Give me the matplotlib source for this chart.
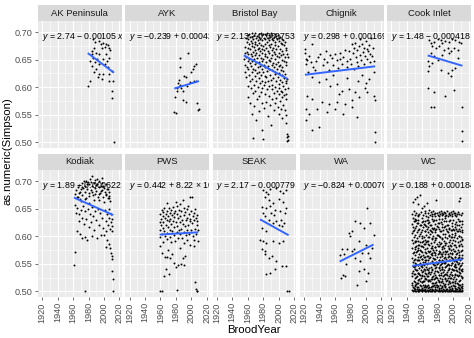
import matplotlib
matplotlib.use("Agg")
import matplotlib.pyplot as plt
from matplotlib.ticker import FixedLocator, FixedFormatter
import numpy as np

plt.rcParams['font.family'] = ['Liberation Sans', 'DejaVu Sans']
plt.rcParams['mathtext.fontset'] = 'custom'
plt.rcParams['mathtext.rm'] = 'Liberation Sans'
plt.rcParams['mathtext.it'] = 'Liberation Sans:italic'

# ---------------- data ----------------
regions = ["AK Peninsula", "AYK", "Bristol Bay", "Chignik", "Cook Inlet",
           "Kodiak", "PWS", "SEAK", "WA", "WC"]

eq_intercept = [2.74, -0.239, 2.13, 0.298, 1.48, 1.89, 0.442, 2.17, -0.824, 0.188]
eq_slope = [-0.00105, 0.000423, -0.000753, 0.000169, -0.000418,
            -0.000622, 8.22e-5, -0.000779, 0.000701, 0.000184]
eq_labels = [
    r"$\it{y}$ = 2.74 − 0.00105 $\it{x}$",
    r"$\it{y}$ = −0.239 + 0.000423 $\it{x}$",
    r"$\it{y}$ = 2.13 − 0.000753 $\it{x}$",
    r"$\it{y}$ = 0.298 + 0.000169 $\it{x}$",
    r"$\it{y}$ = 1.48 − 0.000418 $\it{x}$",
    r"$\it{y}$ = 1.89 − 0.000622 $\it{x}$",
    r"$\it{y}$ = 0.442 + 8.22 × 10$^{-5}$ $\it{x}$",
    r"$\it{y}$ = 2.17 − 0.000779 $\it{x}$",
    r"$\it{y}$ = −0.824 + 0.000701 $\it{x}$",
    r"$\it{y}$ = 0.188 + 0.000184 $\it{x}$",
]

x_ticks = [1920, 1940, 1960, 1980, 2000, 2020]
y_ticks = [0.50, 0.55, 0.60, 0.65, 0.70]
y_tick_labels = ["0.50", "0.55", "0.60", "0.65", "0.70"]

akp_points = [(1986,0.687),(1989,0.683),(1994,0.684),(1999,0.681),(2003,0.679),(2005,0.677),
    (2001,0.673),(1997,0.672),(1987,0.672),(1984,0.666),(1990,0.663),(1994,0.660),(2002,0.660),
    (1986,0.654),(1991,0.651),(1999,0.651),(1982,0.648),(1988,0.645),(1994,0.642),(2001,0.642),
    (1984,0.639),(2005,0.636),(1990,0.633),(1987,0.627),(1994,0.624),(1999,0.624),(2007,0.624),
    (1992,0.618),(1997,0.615),(2007,0.612),(2012,0.611),(1982,0.612),(1979,0.602),(2010,0.593),
    (2010,0.581),(2013,0.501),(2006,0.671),(2006,0.654),(2004,0.648),(2010,0.630),(1996,0.678),
    (2008,0.668),(1985,0.660)]

ayk_points = [(1996,0.663),(1986,0.653),(2006,0.642),(2003,0.638),(1985,0.636),(2002,0.634),
    (2000,0.627),(1990,0.621),(1993,0.619),(1984,0.614),(1998,0.609),(1983,0.607),(1994,0.602),
    (1987,0.598),(1981,0.598),(1982,0.593),(1989,0.594),(2003,0.611),(1979,0.582),(1989,0.576),
    (1993,0.573),(2008,0.571),(2010,0.561),(2009,0.559),(1978,0.555),(1980,0.554),(2006,0.612),
    (1985,0.605)]

bb_years = [1955,1956,1957,1958,1959,1960,1961,1962,1963,1964,1965,1966,1967,1968,1969,1970,
    1971,1972,1973,1974,1975,1976,1977,1978,1979,1980,1981,1982,1983,1984,1985,1986,1987,1988,
    1989,1990,1991,1992,1993,1994,1995,1996,1997,1998,1999,2000,2001,2002,2003,2004,2005,2006,
    2007,2008,2009,2010,2011,2012]
bb_values = [
    [0.651], [0.662, 0.628], [0.673, 0.641], [0.689, 0.655, 0.618], [0.682, 0.664, 0.637],
    [0.694, 0.671, 0.648, 0.603], [0.687, 0.660, 0.633, 0.583], [0.697, 0.678, 0.652, 0.622],
    [0.691, 0.669, 0.644, 0.611, 0.571], [0.684, 0.661, 0.638, 0.598],
    [0.699, 0.675, 0.656, 0.627, 0.552], [0.692, 0.681, 0.647, 0.615],
    [0.688, 0.664, 0.633, 0.589, 0.507], [0.695, 0.673, 0.651, 0.605, 0.566],
    [0.683, 0.667, 0.642, 0.620], [0.698, 0.679, 0.658, 0.631, 0.594],
    [0.690, 0.662, 0.645, 0.612, 0.541], [0.693, 0.676, 0.653, 0.626, 0.578],
    [0.686, 0.669, 0.637, 0.601], [0.697, 0.681, 0.659, 0.628, 0.585],
    [0.691, 0.672, 0.646, 0.617, 0.556], [0.688, 0.665, 0.639, 0.608],
    [0.699, 0.677, 0.654, 0.623, 0.592], [0.694, 0.670, 0.648, 0.612, 0.572],
    [0.685, 0.663, 0.634, 0.598, 0.523], [0.696, 0.674, 0.652, 0.627, 0.506],
    [0.690, 0.668, 0.641, 0.604, 0.563], [0.697, 0.679, 0.657, 0.620, 0.588],
    [0.687, 0.661, 0.636, 0.609], [0.694, 0.671, 0.645, 0.618, 0.574],
    [0.699, 0.683, 0.655, 0.629, 0.596], [0.689, 0.666, 0.638, 0.611, 0.548],
    [0.695, 0.676, 0.650, 0.602], [0.685, 0.662, 0.633, 0.584],
    [0.692, 0.673, 0.647, 0.622, 0.567], [0.698, 0.679, 0.654, 0.614, 0.532],
    [0.688, 0.667, 0.640, 0.597], [0.694, 0.659, 0.631, 0.605, 0.578],
    [0.686, 0.671, 0.644, 0.616], [0.691, 0.664, 0.637, 0.590, 0.558],
    [0.697, 0.676, 0.651, 0.624], [0.683, 0.660, 0.628, 0.601, 0.571],
    [0.693, 0.669, 0.642, 0.612, 0.580], [0.688, 0.657, 0.633, 0.593],
    [0.695, 0.674, 0.646, 0.619, 0.564], [0.684, 0.663, 0.638, 0.606, 0.587],
    [0.690, 0.655, 0.626, 0.599, 0.552], [0.692, 0.670, 0.641, 0.613, 0.575],
    [0.681, 0.658, 0.631, 0.594, 0.561], [0.687, 0.665, 0.636, 0.609, 0.583],
    [0.679, 0.650, 0.622, 0.591, 0.545], [0.685, 0.661, 0.629, 0.603, 0.568],
    [0.676, 0.648, 0.617, 0.586], [0.682, 0.655, 0.624, 0.597, 0.559],
    [0.671, 0.640, 0.611, 0.578, 0.535], [0.668, 0.646, 0.607, 0.588, 0.549],
    [0.660, 0.615, 0.516, 0.509, 0.502], [0.655, 0.599, 0.512, 0.505],
]

chignik_points = [(1921,0.669),(1921,0.663),(1923,0.652),(1924,0.649),(1922,0.642),(1926,0.657),
    (1929,0.645),(1930,0.678),(1932,0.636),(1935,0.648),(1938,0.655),(1941,0.661),(1944,0.640),
    (1946,0.652),(1948,0.666),(1950,0.645),(1952,0.632),(1954,0.658),(1956,0.654),(1958,0.641),
    (1960,0.660),(1962,0.649),(1964,0.635),(1966,0.652),(1967,0.663),(1969,0.643),(1971,0.655),
    (1973,0.668),(1975,0.648),(1976,0.637),(1978,0.666),(1980,0.652),(1981,0.643),(1982,0.678),
    (1983,0.662),(1984,0.634),(1985,0.671),(1986,0.681),(1987,0.655),(1988,0.646),(1989,0.668),
    (1990,0.638),(1991,0.675),(1992,0.687),(1993,0.659),(1994,0.649),(1995,0.679),(1996,0.664),
    (1997,0.672),(1998,0.642),(1999,0.656),(2000,0.684),(2001,0.669),(2002,0.651),(2003,0.666),
    (2004,0.676),(2005,0.645),(2006,0.661),(2007,0.689),(2008,0.657),(2009,0.671),(2010,0.648),
    (2010,0.627),(1930,0.618),(1939,0.609),(1948,0.615),(1954,0.603),(1963,0.606),(1969,0.594),
    (1978,0.597),(1986,0.591),(1990,0.612),(1995,0.622),(2000,0.608),(2004,0.615),(1924,0.585),
    (1930,0.578),(1943,0.573),(1952,0.570),(1963,0.573),(1973,0.570),(1982,0.576),(1991,0.582),
    (2001,0.591),(2011,0.585),(2012,0.576),(1922,0.561),(1926,0.552),(1922,0.540),(1930,0.522),
    (1939,0.528),(1950,0.555),(1960,0.561),(1971,0.552),(1982,0.564),(1988,0.546),(1937,0.561),
    (2012,0.519),(2012,0.501),(1925,0.627),(1934,0.631),(1957,0.622),(1976,0.617),(1965,0.588),
    (1999,0.598)]

cook_points = [(1969,0.686),(1971,0.680),(1975,0.683),(1980,0.687),(1984,0.686),(1986,0.680),
    (1990,0.684),(1995,0.683),(1999,0.687),(2003,0.686),(2008,0.683),(2010,0.680),(1973,0.674),
    (1978,0.671),(1982,0.674),(1988,0.668),(1993,0.672),(1997,0.665),(2001,0.671),(2006,0.668),
    (1971,0.662),(1975,0.656),(1967,0.647),(1973,0.644),(1969,0.638),(1967,0.629),(1984,0.632),
    (1993,0.626),(1999,0.632),(2003,0.635),(1997,0.620),(1968,0.599),(1975,0.592),(1990,0.585),
    (2001,0.595),(1971,0.565),(1975,0.565),(2011,0.565),(2011,0.520),(2012,0.502),(1995,0.662),
    (1986,0.659),(1980,0.650),(2006,0.653)]

kodiak_points = [(1963,0.676),(1964,0.684),(1965,0.671),(1966,0.689),(1967,0.679),(1968,0.693),
    (1969,0.668),(1970,0.685),(1971,0.697),(1972,0.674),(1973,0.688),(1974,0.701),(1975,0.681),
    (1976,0.692),(1977,0.669),(1978,0.686),(1979,0.698),(1980,0.678),(1981,0.694),(1982,0.704),
    (1983,0.684),(1984,0.691),(1985,0.709),(1986,0.675),(1987,0.697),(1988,0.687),(1989,0.703),
    (1990,0.682),(1991,0.695),(1992,0.672),(1993,0.689),(1994,0.700),(1995,0.679),(1996,0.692),
    (1997,0.684),(1998,0.697),(1999,0.671),(2000,0.688),(2001,0.680),(2002,0.694),(2003,0.676),
    (2004,0.686),(2005,0.669),(2006,0.681),(2007,0.673),(2008,0.664),(1966,0.672),(1969,0.681),
    (1972,0.690),(1975,0.667),(1978,0.695),(1981,0.673),(1984,0.680),(1987,0.666),(1990,0.693),
    (1993,0.677),(1996,0.683),(1999,0.691),(2002,0.674),(2005,0.685),(1970,0.664),(1980,0.660),
    (1988,0.676),(1994,0.665),(2000,0.662),(2006,0.669),(1983,0.699),(1991,0.704),(1997,0.705),
    (1977,0.700),(1962,0.657),(1964,0.643),(1965,0.652),(1967,0.640),(1968,0.628),(1970,0.647),
    (1971,0.634),(1973,0.655),(1974,0.622),(1976,0.645),(1977,0.631),(1979,0.650),(1980,0.617),
    (1982,0.641),(1983,0.626),(1985,0.653),(1986,0.637),(1987,0.611),(1989,0.646),(1990,0.629),
    (1992,0.650),(1993,0.620),(1995,0.642),(1996,0.603),(1998,0.634),(1999,0.615),(2001,0.647),
    (2002,0.627),(2003,0.609),(2004,0.640),(2005,0.620),(2006,0.633),(2007,0.650),(2008,0.613),
    (2009,0.640),(2009,0.625),(2010,0.632),(2010,0.618),(2011,0.610),(1969,0.604),(1972,0.597),
    (1975,0.599),(1978,0.593),(1984,0.600),(1991,0.596),(2000,0.602),(2004,0.594),(2007,0.586),
    (2008,0.579),(2009,0.570),(2010,0.565),(2011,0.558),(2011,0.537),(2012,0.522),(2012,0.501),
    (1962,0.571),(1961,0.547),(1976,0.501),(1965,0.610),(2003,0.581)]

pws_points = [(1959,0.626),(1959,0.612),(1960,0.640),(1960,0.598),(1960,0.583),(1961,0.631),
    (1961,0.620),(1962,0.647),(1962,0.604),(1962,0.569),(1963,0.636),(1963,0.615),(1964,0.644),
    (1964,0.626),(1964,0.590),(1965,0.652),(1965,0.610),(1965,0.528),(1966,0.633),(1966,0.601),
    (1966,0.562),(1967,0.641),(1967,0.620),(1967,0.540),(1968,0.629),(1968,0.606),(1968,0.563),
    (1969,0.660),(1969,0.645),(1969,0.595),(1970,0.637),(1970,0.617),(1970,0.575),(1971,0.651),
    (1971,0.627),(1971,0.532),(1972,0.643),(1972,0.612),(1972,0.560),(1973,0.631),(1973,0.599),
    (1974,0.648),(1974,0.622),(1974,0.589),(1975,0.638),(1975,0.610),(1975,0.567),(1976,0.654),
    (1976,0.628),(1977,0.642),(1977,0.603),(1977,0.552),(1978,0.635),(1978,0.617),(1979,0.646),
    (1979,0.592),(1980,0.663),(1980,0.625),(1980,0.545),(1981,0.640),(1981,0.608),(1982,0.655),
    (1982,0.619),(1982,0.503),(1983,0.633),(1983,0.597),(1983,0.548),(1984,0.648),(1984,0.611),
    (1985,0.658),(1985,0.626),(1985,0.578),(1986,0.636),(1986,0.604),(1987,0.645),(1987,0.614),
    (1987,0.550),(1988,0.630),(1988,0.596),(1989,0.666),(1989,0.622),(1989,0.560),(1990,0.651),
    (1990,0.607),(1990,0.547),(1991,0.638),(1991,0.587),(1992,0.644),(1992,0.618),(1992,0.564),
    (1993,0.629),(1993,0.603),(1994,0.649),(1994,0.612),(1995,0.634),(1995,0.594),(1996,0.655),
    (1996,0.621),(1997,0.641),(1997,0.605),(1998,0.627),(1998,0.585),(1999,0.672),(1999,0.632),
    (2000,0.646),(2000,0.611),(2001,0.672),(2001,0.624),(2002,0.637),(2002,0.600),(2003,0.643),
    (2003,0.593),(2004,0.629),(2004,0.583),(2005,0.650),(2005,0.613),(2005,0.517),(2006,0.634),
    (2006,0.604),(2006,0.504),(2007,0.639),(2007,0.620),(2007,0.500),(2008,0.627),(2008,0.501),
    (2009,0.611),(2009,0.592),(1960,0.501),(1962,0.501)]

seak_points = [(1980,0.684),(1984,0.681),(1989,0.685),(1997,0.687),(2002,0.683),(2006,0.678),
    (2009,0.684),(1982,0.672),(1987,0.666),(1993,0.660),(2000,0.667),(2006,0.663),(1978,0.654),
    (1984,0.651),(1989,0.655),(1995,0.648),(2002,0.645),(2008,0.642),(1980,0.642),(1982,0.636),
    (1987,0.630),(1993,0.624),(1997,0.627),(2000,0.621),(2004,0.618),(1978,0.615),(1984,0.609),
    (1976,0.594),(1980,0.591),(1984,0.588),(1993,0.591),(2000,0.588),(2006,0.591),(1978,0.576),
    (1982,0.567),(1987,0.561),(1991,0.564),(1997,0.555),(2004,0.546),(2010,0.546),(1984,0.531),
    (1989,0.534),(1995,0.540),(1982,0.573),(2011,0.501),(2013,0.501),(2007,0.624),(2010,0.651),
    (1990,0.643),(1994,0.639),(2003,0.630),(1986,0.677)]

wa_points = [(2001,0.651),(1986,0.627),(1993,0.624),(1978,0.606),(1982,0.609),(1980,0.600),
    (1997,0.615),(2005,0.624),(2010,0.603),(1991,0.591),(2000,0.585),(1969,0.576),(1975,0.577),
    (1982,0.573),(2008,0.579),(2003,0.570),(1974,0.549),(1986,0.561),(1993,0.555),(1997,0.540),
    (1991,0.537),(1968,0.525),(1971,0.529),(1973,0.528),(1989,0.511),(2000,0.519),(2003,0.534),
    (2005,0.561),(1995,0.570),(1984,0.576),(1972,0.567),(1966,0.566)]

wc_years = [1947,1948,1949,1950,1951,1952,1953,1954,1955,1956,1957,1958,1959,1960,1961,1962,
    1963,1964,1965,1966,1967,1968,1969,1970,1971,1972,1973,1974,1975,1976,1977,1978,1979,1980,
    1981,1982,1983,1984,1985,1986,1987,1988,1989,1990,1991,1992,1993,1994,1995,1996,1997,1998,
    1999,2000,2001,2002,2003,2004,2005,2006,2007,2008,2009,2010,2011,2012]
wc_values = [
    [0.503, 0.528, 0.561, 0.594, 0.622, 0.641, 0.512, 0.515, 0.533, 0.578, 0.606],
    [0.500, 0.537, 0.553, 0.587, 0.609, 0.634, 0.662, 0.508, 0.546, 0.569, 0.617],
    [0.506, 0.519, 0.571, 0.598, 0.627, 0.645, 0.545, 0.502, 0.531, 0.557, 0.612],
    [0.501, 0.541, 0.566, 0.580, 0.615, 0.638, 0.524, 0.511, 0.552, 0.589, 0.627],
    [0.509, 0.532, 0.558, 0.603, 0.631, 0.668, 0.577, 0.504, 0.517, 0.546, 0.591],
    [0.500, 0.526, 0.549, 0.592, 0.618, 0.643, 0.571, 0.513, 0.538, 0.583, 0.630],
    [0.504, 0.539, 0.574, 0.596, 0.624, 0.672, 0.515, 0.507, 0.528, 0.556, 0.608],
    [0.502, 0.521, 0.563, 0.585, 0.611, 0.636, 0.548, 0.500, 0.533, 0.575, 0.624],
    [0.507, 0.534, 0.556, 0.579, 0.629, 0.659, 0.501, 0.516, 0.547, 0.591, 0.638],
    [0.500, 0.543, 0.568, 0.601, 0.614, 0.640, 0.522, 0.505, 0.531, 0.556, 0.584],
    [0.511, 0.530, 0.551, 0.589, 0.620, 0.674, 0.575, 0.502, 0.519, 0.563, 0.604],
    [0.503, 0.525, 0.565, 0.583, 0.607, 0.644, 0.538, 0.509, 0.546, 0.573, 0.620],
    [0.500, 0.536, 0.559, 0.597, 0.626, 0.651, 0.517, 0.506, 0.528, 0.545, 0.583],
    [0.505, 0.529, 0.572, 0.590, 0.633, 0.547, 0.612, 0.500, 0.517, 0.558, 0.601],
    [0.502, 0.518, 0.554, 0.581, 0.616, 0.639, 0.566, 0.512, 0.537, 0.592, 0.628],
    [0.508, 0.540, 0.562, 0.599, 0.623, 0.655, 0.527, 0.503, 0.518, 0.548, 0.586],
    [0.500, 0.533, 0.576, 0.594, 0.610, 0.642, 0.553, 0.509, 0.523, 0.563, 0.621],
    [0.504, 0.524, 0.557, 0.586, 0.628, 0.646, 0.512, 0.500, 0.538, 0.571, 0.610],
    [0.501, 0.545, 0.569, 0.603, 0.619, 0.637, 0.531, 0.507, 0.522, 0.556, 0.590],
    [0.510, 0.527, 0.550, 0.578, 0.613, 0.661, 0.592, 0.503, 0.541, 0.565, 0.629],
    [0.500, 0.538, 0.564, 0.591, 0.630, 0.643, 0.519, 0.511, 0.527, 0.552, 0.607],
    [0.506, 0.520, 0.573, 0.598, 0.617, 0.635, 0.556, 0.501, 0.533, 0.586, 0.624],
    [0.502, 0.535, 0.560, 0.584, 0.625, 0.648, 0.543, 0.508, 0.521, 0.571, 0.598],
    [0.500, 0.531, 0.552, 0.605, 0.612, 0.639, 0.574, 0.504, 0.518, 0.563, 0.621],
    [0.507, 0.544, 0.567, 0.588, 0.621, 0.644, 0.523, 0.500, 0.535, 0.578, 0.609],
    [0.503, 0.522, 0.555, 0.595, 0.632, 0.641, 0.578, 0.510, 0.540, 0.566, 0.615],
    [0.500, 0.539, 0.570, 0.582, 0.608, 0.637, 0.516, 0.505, 0.526, 0.553, 0.596],
    [0.509, 0.528, 0.561, 0.600, 0.627, 0.645, 0.549, 0.502, 0.515, 0.575, 0.613],
    [0.501, 0.534, 0.548, 0.589, 0.615, 0.640, 0.571, 0.512, 0.523, 0.559, 0.629],
    [0.505, 0.516, 0.566, 0.593, 0.622, 0.643, 0.537, 0.500, 0.547, 0.580, 0.607],
    [0.500, 0.542, 0.558, 0.580, 0.611, 0.636, 0.525, 0.507, 0.529, 0.570, 0.596],
    [0.503, 0.526, 0.575, 0.597, 0.629, 0.665, 0.554, 0.511, 0.517, 0.544, 0.613],
    [0.508, 0.537, 0.563, 0.586, 0.618, 0.642, 0.512, 0.502, 0.524, 0.549, 0.603],
    [0.500, 0.521, 0.551, 0.602, 0.624, 0.639, 0.568, 0.509, 0.536, 0.582, 0.616],
    [0.504, 0.530, 0.569, 0.590, 0.613, 0.644, 0.545, 0.500, 0.517, 0.556, 0.624],
    [0.502, 0.543, 0.557, 0.583, 0.631, 0.637, 0.518, 0.506, 0.529, 0.573, 0.601],
    [0.500, 0.525, 0.572, 0.599, 0.609, 0.641, 0.563, 0.512, 0.538, 0.548, 0.586],
    [0.506, 0.533, 0.549, 0.588, 0.626, 0.645, 0.529, 0.503, 0.517, 0.567, 0.610],
    [0.501, 0.540, 0.564, 0.595, 0.616, 0.638, 0.577, 0.508, 0.523, 0.551, 0.631],
    [0.509, 0.519, 0.556, 0.581, 0.623, 0.643, 0.541, 0.500, 0.544, 0.568, 0.597],
    [0.500, 0.536, 0.571, 0.604, 0.612, 0.640, 0.527, 0.505, 0.516, 0.555, 0.582],
    [0.503, 0.529, 0.560, 0.592, 0.628, 0.644, 0.551, 0.511, 0.538, 0.578, 0.617],
    [0.507, 0.523, 0.553, 0.585, 0.619, 0.636, 0.573, 0.501, 0.532, 0.563, 0.605],
    [0.500, 0.545, 0.567, 0.598, 0.633, 0.642, 0.514, 0.509, 0.524, 0.552, 0.587],
    [0.502, 0.532, 0.559, 0.587, 0.614, 0.639, 0.546, 0.504, 0.518, 0.572, 0.627],
    [0.505, 0.520, 0.574, 0.596, 0.621, 0.645, 0.535, 0.500, 0.530, 0.548, 0.609],
    [0.500, 0.538, 0.550, 0.583, 0.607, 0.637, 0.562, 0.513, 0.524, 0.568, 0.620],
    [0.508, 0.527, 0.565, 0.601, 0.627, 0.643, 0.519, 0.503, 0.542, 0.578, 0.613],
    [0.501, 0.541, 0.557, 0.590, 0.615, 0.641, 0.576, 0.507, 0.517, 0.547, 0.602],
    [0.504, 0.524, 0.570, 0.594, 0.630, 0.638, 0.532, 0.500, 0.515, 0.556, 0.584],
    [0.500, 0.535, 0.562, 0.582, 0.611, 0.644, 0.548, 0.510, 0.524, 0.575, 0.598],
    [0.506, 0.530, 0.552, 0.599, 0.624, 0.640, 0.569, 0.505, 0.540, 0.561, 0.611],
    [0.502, 0.517, 0.568, 0.588, 0.618, 0.636, 0.541, 0.502, 0.529, 0.551, 0.605],
    [0.500, 0.539, 0.558, 0.593, 0.629, 0.645, 0.523, 0.512, 0.517, 0.576, 0.614],
    [0.509, 0.526, 0.573, 0.585, 0.612, 0.642, 0.555, 0.500, 0.538, 0.546, 0.599],
    [0.503, 0.544, 0.549, 0.602, 0.622, 0.639, 0.516, 0.506, 0.529, 0.563, 0.585],
    [0.500, 0.531, 0.563, 0.591, 0.617, 0.643, 0.574, 0.509, 0.518, 0.547, 0.606],
    [0.505, 0.522, 0.555, 0.580, 0.626, 0.637, 0.538, 0.501, 0.544, 0.568, 0.614],
    [0.501, 0.537, 0.570, 0.597, 0.610, 0.641, 0.529, 0.504, 0.516, 0.553, 0.621],
    [0.507, 0.528, 0.561, 0.589, 0.632, 0.644, 0.550, 0.500, 0.514, 0.575, 0.609],
    [0.500, 0.541, 0.552, 0.584, 0.620, 0.664, 0.572, 0.511, 0.529, 0.563, 0.600],
    [0.502, 0.519, 0.566, 0.600, 0.614, 0.640, 0.535, 0.506, 0.542, 0.583, 0.627],
    [0.504, 0.534, 0.557, 0.592, 0.628, 0.670, 0.521, 0.500, 0.512, 0.546, 0.610],
    [0.500, 0.527, 0.574, 0.586, 0.616, 0.638, 0.547, 0.508, 0.539, 0.561, 0.599],
    [0.506, 0.540, 0.560, 0.595, 0.623, 0.642, 0.513, 0.503, 0.526, 0.575, 0.608],
    [0.501, 0.524, 0.551, 0.583, 0.611, 0.566, 0.509, 0.537, 0.593, 0.627],
]


def from_points(pts):
    return [p[0] for p in pts], [p[1] for p in pts]


def from_years(years, values):
    xs, ys = [], []
    for yr, vals in zip(years, values):
        for v in vals:
            xs.append(yr)
            ys.append(v)
    return xs, ys


panel_data = [
    from_points(akp_points),
    from_points(ayk_points),
    from_years(bb_years, bb_values),
    from_points(chignik_points),
    from_points(cook_points),
    from_points(kodiak_points),
    from_points(pws_points),
    from_points(seak_points),
    from_points(wa_points),
    from_years(wc_years, wc_values),
]

# ---------------- layout ----------------
W, H = 474, 338
fig = plt.figure(figsize=(W / 100, H / 100), dpi=100)
fig.patch.set_facecolor('white')

panel_w, panel_h = 83.7, 127
col_left = [38 + i * 87.3 for i in range(5)]
row_top = [21, 170]
strip_h = 16

for i, name in enumerate(regions):
    r, c = divmod(i, 5)
    l, t = col_left[c], row_top[r]
    ax = fig.add_axes([l / W, 1 - (t + panel_h) / H, panel_w / W, panel_h / H])
    ax.set_facecolor('#EBEBEB')
    ax.set_xlim(1914.5, 2023)
    ax.set_ylim(0.4897, 0.7203)
    ax.xaxis.set_major_locator(FixedLocator(x_ticks))
    ax.xaxis.set_minor_locator(FixedLocator([1930, 1950, 1970, 1990, 2010]))
    ax.yaxis.set_major_locator(FixedLocator(y_ticks))
    ax.yaxis.set_major_formatter(FixedFormatter(y_tick_labels))
    ax.yaxis.set_minor_locator(FixedLocator([0.525, 0.575, 0.625, 0.675]))
    ax.grid(which='major', color='white', lw=0.8, zorder=0)
    ax.grid(which='minor', color='white', lw=0.4, zorder=0)
    ax.set_axisbelow(True)
    for s in ax.spines.values():
        s.set_visible(False)
    ax.tick_params(which='minor', length=0)
    ax.tick_params(which='major', length=2.2, width=0.5, color='#333333',
                   labelsize=6.6, labelcolor='#4D4D4D', pad=1.5)
    if r == 0:
        ax.tick_params(axis='x', length=0, labelbottom=False)
    else:
        ax.tick_params(axis='x', labelrotation=90)
    if c > 0:
        ax.tick_params(axis='y', length=0, labelleft=False)

    xs, ys = panel_data[i]
    ax.scatter(xs, ys, s=2.0, c='black', linewidths=0, zorder=2)
    lx = np.array([min(xs), max(xs)], dtype=float)
    ax.plot(lx, eq_intercept[i] + eq_slope[i] * lx, color='#3366FF', lw=1.4,
            zorder=3, solid_capstyle='butt')
    ax.text(0.042, 0.925, eq_labels[i], transform=ax.transAxes, fontsize=6.3,
            ha='left', va='top', color='black', clip_on=True, zorder=4)

    sax = fig.add_axes([l / W, 1 - t / H, panel_w / W, strip_h / H])
    sax.set_facecolor('#D9D9D9')
    sax.set_xticks([])
    sax.set_yticks([])
    for s in sax.spines.values():
        s.set_visible(False)
    sax.text(0.5, 0.5, name, ha='center', va='center', fontsize=6.8,
             color='#1A1A1A', transform=sax.transAxes)

fig.text(254 / W, 1 - 330 / H, 'BroodYear', ha='center', va='center',
         fontsize=8.2, color='black')
fig.text(8 / W, 1 - 151 / H, 'as.numeric(Simpson)', ha='center', va='center',
         rotation=90, fontsize=8.2, color='black')

fig.savefig('out.png', dpi=100)
